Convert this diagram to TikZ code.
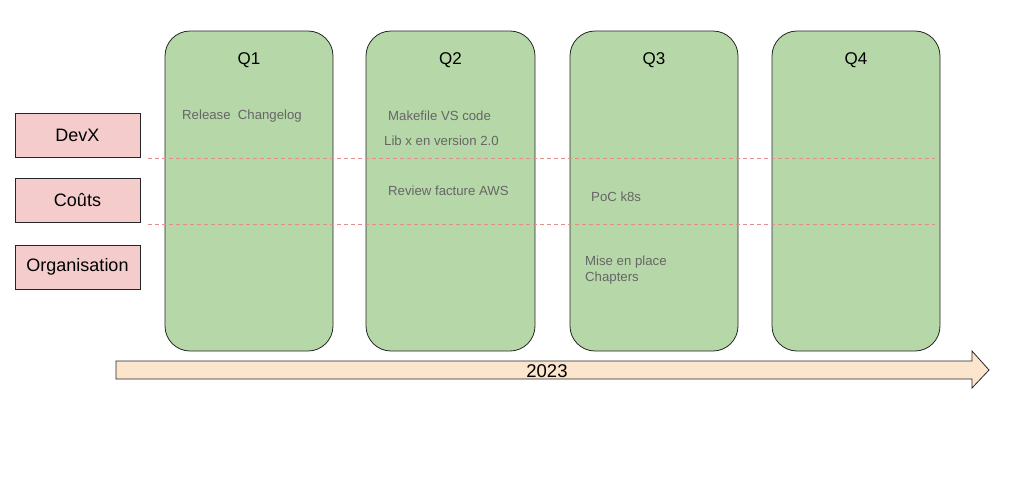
\documentclass[tikz,border=0pt]{standalone}
\usepackage{fontspec}
\setmainfont{Liberation Sans}
\definecolor{qgreen}{HTML}{B6D7A8}
\definecolor{lpink}{HTML}{F4CCCC}
\definecolor{apeach}{HTML}{FCE5CD}
\definecolor{dred}{HTML}{DE8E8E}
\definecolor{itemgray}{HTML}{666666}
\begin{document}
\begin{tikzpicture}[x=1pt,y=-1pt,
  quarter/.style={draw=black!85,fill=qgreen,rounded corners=25pt,line width=0.8pt},
  theme/.style={draw=black!85,fill=lpink,line width=0.8pt,minimum width=125pt,minimum height=44pt,inner sep=0pt,font=\fontsize{18}{21}\selectfont},
  qtitle/.style={font=\fontsize{17}{20}\selectfont,inner sep=0pt},
  yeartext/.style={font=\fontsize{18.5}{21}\selectfont,inner sep=0pt},
  item/.style={text=itemgray,font=\fontsize{13.2}{16.5}\selectfont,anchor=west,inner sep=0pt,align=left},
  sep/.style={dred,line width=0.7pt,dash pattern=on 4pt off 3pt}]
\useasboundingbox (0,0) rectangle (1031,477);
\fill[white] (0,0) rectangle (1031,477);
% quarters
\draw[quarter] (165,31) rectangle (333,351);
\draw[quarter] (366,31) rectangle (535,351);
\draw[quarter] (570,31) rectangle (738,351);
\draw[quarter] (772,31) rectangle (940,351);
\node[qtitle] (q1) at (249,60) {Q1};
\node[qtitle] (q2) at (450.5,60) {Q2};
\node[qtitle] (q3) at (654,60) {Q3};
\node[qtitle] (q4) at (856,60) {Q4};
% themes
\node[theme] (devx) at (77.5,135) {DevX};
\node[theme] (couts) at (77.5,200.5) {Coûts};
\node[theme] (orga) at (77.5,267) {Organisation};
% separators
\coordinate (s1a) at (148,158);
\coordinate (s1b) at (935,158);
\coordinate (s2a) at (148,224);
\coordinate (s2b) at (935,224);
\draw[sep] (s1a) -- (s1b);
\draw[sep] (s2a) -- (s2b);
% items
\node[item] (i1) at (182,116) {Release\ \ Changelog};
\node[item] (i2) at (388,116) {Makefile VS code};
\node[item] (i3) at (384,141) {Lib x en version 2.0};
\node[item] (i4) at (388,191) {Review facture AWS};
\node[item] (i5) at (591,197) {PoC k8s};
\node[item] (i6) at (585,270) {Mise en place\\Chapters};
% timeline arrow
\draw[fill=apeach,line width=0.8pt,draw=black!85] (116,361) -- (972,361) -- (972,351) -- (989,370) -- (972,388) -- (972,379) -- (116,379) -- cycle;
\node[yeartext] (year) at (547,371) {2023};
\end{tikzpicture}
\end{document}
